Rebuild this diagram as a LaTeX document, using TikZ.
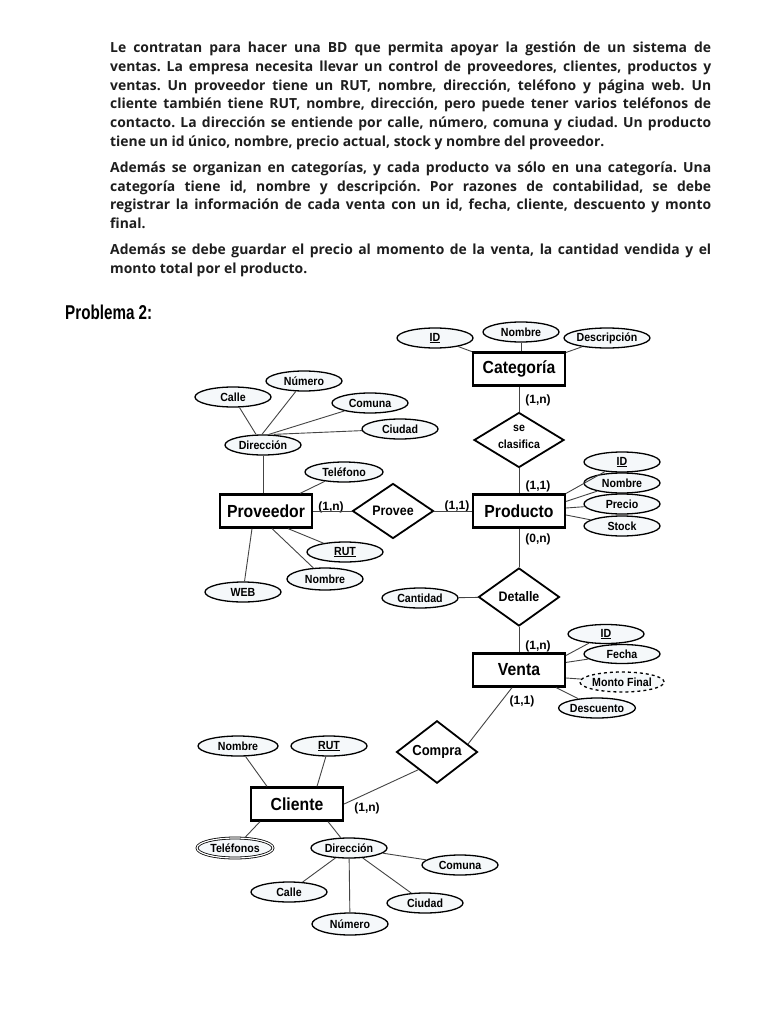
\documentclass[tikz,border=0pt]{standalone}
\usepackage{fontspec}
\setmainfont{Open Sans}
\newfontfamily\erfont[FakeStretch=0.9]{Liberation Sans}
\newfontfamily\cardfont{Liberation Sans}
\newfontfamily\titlefont[FakeStretch=0.76]{Liberation Sans}
\usepackage{tikz}
\usetikzlibrary{shapes.geometric, calc}
\definecolor{attrfill}{HTML}{F5F8FA}
\definecolor{linegray}{HTML}{444444}
\definecolor{textgray}{HTML}{1E1E1E}
\frenchspacing

\begin{document}
\begin{tikzpicture}[x=1pt, y=-1pt,
  entity/.style={draw, line width=2.2pt, minimum width=92pt, minimum height=33pt, inner sep=0pt, font=\erfont\bfseries\fontsize{17.5}{19}\selectfont},
  attr/.style={draw, ellipse, line width=1.3pt, fill=attrfill, minimum width=76pt, minimum height=20pt, inner sep=0pt, font=\erfont\bfseries\fontsize{11.8}{13}\selectfont},
  rel/.style={draw, diamond, line width=1.8pt, minimum width=81pt, minimum height=55pt, inner sep=0pt, font=\erfont\bfseries\fontsize{13.8}{15}\selectfont},
  card/.style={inner sep=0pt, font=\cardfont\bfseries\fontsize{12}{14}\selectfont},
  link/.style={draw=linegray, line width=0.9pt}
]
\fill[white] (0,0) rectangle (768,1024);
\useasboundingbox (0,0) rectangle (768,1024);

% enunciado
\node[anchor=north west, inner sep=0pt, text width=601pt, align=justify, text=textgray,
  font=\bfseries\fontsize{13.9}{18.7}\selectfont] (texto) at (110,42) {%
\setlength{\parindent}{0pt}\setlength{\parskip}{7.3pt}%
Le contratan para hacer una BD que permita apoyar la gestión de un sistema de\linebreak
ventas. La empresa necesita llevar un control de proveedores, clientes, productos y\linebreak
ventas. Un proveedor tiene un RUT, nombre, dirección, teléfono y página web. Un\linebreak
cliente también tiene RUT, nombre, dirección, pero puede tener varios teléfonos de\linebreak
contacto. La dirección se entiende por calle, número, comuna y ciudad. Un producto\linebreak
tiene un id único, nombre, precio actual, stock y nombre del proveedor.\par
Además se organizan en categorías, y cada producto va sólo en una categoría. Una\linebreak
categoría tiene id, nombre y descripción. Por razones de contabilidad, se debe\linebreak
registrar la información de cada venta con un id, fecha, cliente, descuento y monto\linebreak
final.\par
Además se debe guardar el precio al momento de la venta, la cantidad vendida y el\linebreak
monto total por el producto.};

\node[anchor=west, inner sep=0pt, font=\titlefont\bfseries\fontsize{20}{22}\selectfont] (titulo) at (65,312) {Problema 2:};

% entidades
\node[entity] (cat) at (519,369) {Categoría};
\node[entity] (prod) at (519,511) {Producto};
\node[entity] (prov) at (266,511) {Proveedor};
\node[entity] (venta) at (519,670) {Venta};
\node[entity] (cli) at (297,804) {Cliente};

% relaciones
\node[rel, minimum width=90pt, font=\erfont\bfseries\fontsize{11.8}{13}\selectfont] (clas) at (519,440)
  {\smash{\begin{tabular}{@{}c@{}}se\\[4pt]clasifica\end{tabular}}};
\node[rel] (provee) at (393,511) {Provee};
\node[rel, minimum height=58pt] (detalle) at (519,597) {Detalle};
\node[rel, font=\erfont\bfseries\fontsize{14.5}{16}\selectfont] (compra) at (437,752) {Compra};

% atributos categoria
\node[attr] (catid) at (435,338) {\underline{ID}};
\node[attr] (catnom) at (521,332) {Nombre};
\node[attr, minimum width=79pt] (catdes) at (607,338) {Descripción};

% atributos producto
\node[attr] (prodid) at (622,462) {\underline{ID}};
\node[attr] (prodnom) at (622,483) {Nombre};
\node[attr] (prodpre) at (622,504) {Precio};
\node[attr] (prodsto) at (622,526) {Stock};

% atributos proveedor
\node[attr] (pcalle) at (233,397) {Calle};
\node[attr] (pnum) at (304,381) {Número};
\node[attr] (pcom) at (370,403) {Comuna};
\node[attr] (pciu) at (400,429) {Ciudad};
\node[attr] (pdir) at (263,445) {Dirección};
\node[attr, minimum width=78pt] (ptel) at (344,472) {Teléfono};
\node[attr] (prut) at (345,552) {\underline{RUT}};
\node[attr, minimum height=22pt] (pnom) at (325,579) {Nombre};
\node[attr] (pweb) at (243,592) {WEB};

% atributos detalle y venta
\node[attr] (cant) at (420,598) {Cantidad};
\node[attr, minimum height=19pt] (vid) at (606,634) {\underline{ID}};
\node[attr, minimum height=19pt] (vfecha) at (622,654) {Fecha};
\node[attr, dashed] (vmonto) at (622,682) {Monto Final};
\node[attr] (vdesc) at (597,708) {Descuento};

% atributos cliente
\node[attr, minimum width=80pt] (cnom) at (238,746) {Nombre};
\node[attr] (crut) at (329,746) {\underline{RUT}};
\node[attr, double, double distance=1.2pt, line width=0.8pt] (ctel) at (235,848) {Teléfonos};
\node[attr] (cdir) at (349,848) {Dirección};
\node[attr] (ccom) at (460,865) {Comuna};
\node[attr] (ccalle) at (289,892) {Calle};
\node[attr] (cciu) at (425,903) {Ciudad};
\node[attr, minimum height=22pt] (cnum) at (350,924) {Número};

% cardinalidades
\node[card] (c1) at (538,400) {(1,n)};
\node[card] (c2) at (538,486) {(1,1)};
\node[card] (c3) at (457,506) {(1,1)};
\node[card] (c4) at (331,507) {(1,n)};
\node[card] (c5) at (538,539) {(0,n)};
\node[card] (c6) at (538,646) {(1,n)};
\node[card] (c7) at (522,701) {(1,1)};
\node[card] (c8) at (367,808) {(1,n)};

% conexiones
\draw[link] (cat) -- (clas);
\draw[link] (clas) -- (prod);
\draw[link] (prov) -- (provee);
\draw[link] (provee) -- (prod);
\draw[link] (prod) -- (detalle);
\draw[link] (detalle) -- (venta);
\draw[link] (cant) -- (detalle);
\draw[link] ([xshift=-7pt]venta.south) -- ($(compra.north)!0.75!(compra.east)$);
\draw[link] ($(compra.west)!0.55!(compra.south)$) -- (cli.east);

\draw[link] (catid) -- (cat);
\draw[link] (catnom) -- (catnom |- cat.north);
\draw[link] (catdes) -- (cat);

\draw[link] (prodid) -- (prod.north east);
\draw[link] (prodnom) -- ([yshift=-8pt]prod.north east);
\draw[link] (prodpre) -- ([yshift=3pt]prod.east);
\draw[link] (prodsto) -- ([yshift=-4pt]prod.east);

\draw[link] (pcalle) -- ([xshift=-7pt]pdir.north);
\draw[link] (pnum) -- ([xshift=-1pt]pdir.north);
\draw[link] (pcom) -- ([xshift=6pt]pdir.north);
\draw[link] (pciu) -- ([xshift=11pt]pdir.north);
\draw[link] (pdir) -- (pdir |- prov.north);
\draw[link] (ptel) -- ([xshift=34pt]prov.north);
\draw[link] (prut) -- ([xshift=22pt]prov.south);
\draw[link] (pnom) -- ([xshift=6pt]prov.south);
\draw[link] (pweb) -- ([xshift=-14pt]prov.south);

\draw[link] (vid) -- ([yshift=-3pt]venta.north east);
\draw[link] (vfecha) -- ([yshift=-10pt]venta.north east);
\draw[link] (vmonto) -- ([yshift=-8pt]venta.east);
\draw[link] (vdesc) -- ([xshift=-10pt]venta.south east);

\draw[link] (cnom) -- ([xshift=-30pt]cli.north);
\draw[link] (crut) -- ([xshift=20pt]cli.north);
\draw[link] (ctel) -- ([xshift=-37pt]cli.south);
\draw[link] (cdir) -- ([xshift=31pt]cli.south);
\draw[link] (cdir) -- (ccom);
\draw[link] (cdir) -- (ccalle);
\draw[link] (cdir) -- (cciu);
\draw[link] (cdir) -- (cnum);
\end{tikzpicture}
\end{document}
